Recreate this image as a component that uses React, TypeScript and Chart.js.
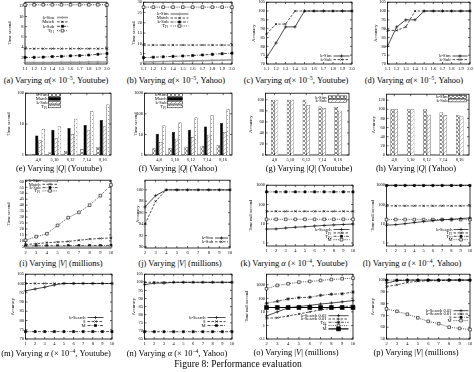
import React, { useEffect, useRef } from "react";
import { Chart, registerables } from "chart.js";
Chart.register(...registerables);

const FONT = "'Liberation Serif', 'DejaVu Serif', serif";

// ---------- categories ----------
const alphaLabels = ["1.1", "1.2", "1.3", "1.4", "1.5", "1.6", "1.7", "1.8", "1.9", "2.0"];
const vLabels = ["2", "3", "4", "5", "6", "7", "8", "9", "10"];
const alpha4Labels = ["1", "2", "3", "4", "5", "6", "7", "8", "9", "10"];
const qLabels = ["4,8", "5,10", "6,12", "7,14", "8,16"];

// ---------- tick values ----------
const aTicks = [2, 4, 6, 8, 10, 12];
const bTicks = [0, 5, 10, 15, 20, 25, 30];
const accTicks70 = [70, 75, 80, 85, 90, 95, 100, 105];
const logTicks100 = [1, 10, 100];
const logTicks1000 = [1, 10, 100, 1000];
const gTicks = [0, 20, 40, 60, 80, 100];
const hTicks = [0, 20, 40, 60, 80, 100, 120];
const iTicks = [5, 10, 15, 20, 25, 30, 35, 40, 45, 50, 55, 60];
const jTicks = [90, 92, 94, 96, 98, 100];
const nTicks = [65, 70, 75, 80, 85, 90, 95, 100, 105];
const oTicks = [0.1, 1, 10, 100, 1000];
const pTicks = [50, 60, 70, 80, 90, 100];

// ---------- (a) time, Youtube ----------
const aKSim = [1.0, 1.0, 1.0, 1.0, 1.05, 1.05, 1.05, 1.1, 1.1, 1.1];
const aMatch = [3.7, 3.7, 3.7, 3.7, 3.7, 3.7, 3.7, 3.7, 3.7, 3.7];
const aKSub = [2.0, 2.0, 2.05, 2.15, 2.2, 2.3, 2.35, 2.45, 2.6, 2.75];
const aTP1 = [12.3, 12.3, 12.3, 12.3, 12.3, 12.3, 12.3, 12.3, 12.3, 12.3];
// ---------- (b) time, Yahoo ----------
const bKSim = [1.0, 1.1, 1.2, 1.3, 1.4, 1.5, 1.6, 1.75, 1.85, 2.0];
const bMatch = [9.2, 9.2, 9.2, 9.2, 9.2, 9.2, 9.2, 9.2, 9.2, 9.2];
const bKSub = [3.1, 3.3, 3.5, 3.7, 3.9, 4.1, 4.4, 4.7, 5.0, 5.3];
const bTP1 = [27.6, 27.6, 27.6, 27.6, 27.6, 27.6, 27.6, 27.6, 27.6, 27.6];
// ---------- (c) accuracy, Youtube ----------
const cKSim = [73.7, 81.9, 91, 91, 100, 100, 100, 100, 100, 100];
const cKSub = [87, 92.6, 92.6, 100, 100, 100, 100, 100, 100, 100];
// ---------- (d) accuracy, Yahoo ----------
const dKSim = [80, 91, 95, 95, 100, 100, 100, 100, 100, 100];
const dKSub = [89, 89, 91, 100, 100, 100, 100, 100, 100, 100];
// ---------- (e) time vs |Q|, Youtube ----------
const eKSim = [1.05, 1.2, 1.34, 1.55, 1.8];
const eMatch = [4.3, 6.6, 7.5, 9.3, 13.7];
const eKSub = [3.0, 3.5, 4.8, 6.6, 8.4];
const eTP1 = [6.9, 8.4, 15, 26, 43];
// ---------- (f) time vs |Q|, Yahoo ----------
const fKSim = [2.1, 2.2, 2.5, 2.8, 3.0];
const fMatch = [10.8, 12.9, 17, 24, 36];
const fKSub = [4.3, 6.2, 7.5, 9.6, 13];
const fTP1 = [27, 38, 67, 86, 166];
// ---------- (g) accuracy vs |Q|, Youtube ----------
const gKSim = [100, 100, 100, 88, 87];
const gKSub = [100, 100, 90, 85, 80];
// ---------- (h) accuracy vs |Q|, Yahoo ----------
const hKSim = [100, 100, 100, 93, 87];
const hKSub = [100, 100, 88, 87, 84];
// ---------- (i) time vs |V| ----------
const iKSim = [4.6, 4.6, 4.6, 4.7, 4.7, 4.7, 4.8, 4.8, 4.8];
const iMatch = [7, 7.5, 8.5, 9, 9.5, 10.5, 11.5, 12, 12.5];
const iKSub = [5.8, 5.8, 5.9, 5.9, 6, 6, 6.1, 6.1, 6.2];
const iTP1 = [10.5, 13.5, 16, 23, 29.5, 34, 40, 48, 57];
// ---------- (j) accuracy vs |V| ----------
const jKSim = [97, 99, 100, 100, 100, 100, 100, 100, 100];
const jKSub = [94, 98, 100, 100, 100, 100, 100, 100, 100];
// ---------- (k) time vs alpha, Youtube ----------
const kKSearch = [5.3, 5.4, 6, 6.6, 7, 7.6, 8.2, 8.7, 9.2, 9.6];
const kTP1 = [44, 44, 44, 44, 44, 44, 44, 44, 44, 44];
const kTP2 = [450, 450, 450, 450, 450, 450, 450, 450, 450, 450];
const kM = [17, 17, 17, 17, 17, 17, 17, 17, 17, 17];
// ---------- (l) time vs alpha, Yahoo ----------
const lKSearch = [8.4, 9, 10, 11.5, 13, 14.5, 16, 17, 18.5, 20];
const lTP1 = [85, 85, 85, 85, 85, 85, 85, 85, 85, 85];
const lTP2 = [970, 970, 970, 970, 970, 970, 970, 970, 970, 970];
const lM = [16.5, 16.5, 16.5, 16.5, 16.5, 16.5, 16.5, 16.5, 16.5, 16.5];
// ---------- (m) accuracy vs alpha, Youtube ----------
const mKSearch = [96, 97, 98, 99.2, 100, 100, 100, 100, 100, 100];
const mS = [100, 100, 100, 100, 100, 100, 100, 100, 100, 100];
const mM = [74, 74, 74, 74, 74, 74, 74, 74, 74, 74];
// ---------- (n) accuracy vs alpha, Yahoo ----------
const nKSearch = [98.5, 99.5, 99.5, 100, 100, 100, 100, 100, 100, 100];
const nS = [100, 100, 100, 100, 100, 100, 100, 100, 100, 100];
const nM = [69.5, 69.5, 69.5, 69.5, 69.5, 69.5, 69.5, 69.5, 69.5, 69.5];
// ---------- (o) time vs |V| ----------
const oKS02 = [5, 10, 20, 25, 30, 38, 45, 55, 68];
const oKS01 = [3.4, 3.7, 5, 7, 10, 14, 18, 24, 29];
const oTP = [43, 60, 90, 112, 120, 165, 200, 215, 290];
const oT = [510, 900, 1180, 1560, 1750, 2070, 2450, 2750, 3050];
const oM = [21, 21, 21, 21, 21, 21, 21, 21, 21];
// ---------- (p) accuracy vs |V| ----------
const pKS02 = [97.5, 99.5, 100, 100, 100, 100, 100, 100, 100];
const pKS01 = [94.5, 96, 98, 99, 99.5, 99.5, 100, 100, 100];
const pS = [100, 100, 100, 100, 100, 100, 100, 100, 100];
const pM = [75.5, 73.5, 71, 68, 65, 63, 60, 59, 58];

// ---------- styles ----------
type LineStyle = { color: string; width: number; dash: number[]; marker: string; size: number };
const ST: Record<string, LineStyle> = {
  plus: { color: "#000", width: 0.7, dash: [], marker: "cross", size: 1.7 },
  gray: { color: "#999", width: 1.6, dash: [], marker: "cross", size: 1.7 },
  dashX: { color: "#000", width: 0.7, dash: [2.5, 1.5], marker: "crossRot", size: 1.6 },
  dashDotFilled: { color: "#000", width: 0.7, dash: [3, 1.2, 0.8, 1.2], marker: "rect", size: 1.5 },
  dotOpen: { color: "#000", width: 0.7, dash: [1, 1.2], marker: "rectOpen", size: 1.9 },
  dotStar: { color: "#000", width: 0.7, dash: [3, 1.2, 0.8, 1.2], marker: "star", size: 1.8 },
  bigFilled: { color: "#000", width: 1.2, dash: [], marker: "rect", size: 2.8 },
};

type Series = { label: string; data: number[]; style: string };
type PanelDef = {
  frame: [number, number, number, number];
  yw: number;
  kind: "line" | "bar";
  labels: string[];
  series: Series[];
  yType: "linear" | "logarithmic";
  yMin: number;
  yMax: number;
  yTicks: number[];
  yTitle: string;
  xRange?: [number, number];
  catPct?: number;
  key: { tx: number; sx0: number; sx1: number; y0: number; dy: number };
};

const PT = 3, PR = 5, XH = 9;

const timeSeries4 = (ks: number[], m: number[], ksub: number[], t: number[]): Series[] => [
  { label: "k-Sim", data: ks, style: "gray" },
  { label: "Match", data: m, style: "dashX" },
  { label: "k-Sub", data: ksub, style: "dashDotFilled" },
  { label: "T_{P1}", data: t, style: "dotOpen" },
];
const barSeries4 = (ks: number[], m: number[], ksub: number[], t: number[]): Series[] => [
  { label: "k-Sim", data: ks, style: "check" },
  { label: "Match", data: m, style: "black" },
  { label: "k-Sub", data: ksub, style: "hatch" },
  { label: "T_{P1}", data: t, style: "dots" },
];

const panels: PanelDef[] = [
  { frame: [25, 1, 107, 64], yw: 18, kind: "line", labels: alphaLabels, series: timeSeries4(aKSim, aMatch, aKSub, aTP1),
    yType: "linear", yMin: 0.7, yMax: 12.8, yTicks: aTicks, yTitle: "Time second",
    key: { tx: 54, sx0: 57, sx1: 68, y0: 17.5, dy: 4.4 } },
  { frame: [143, 1, 231, 64], yw: 12.5, kind: "line", labels: alphaLabels, series: timeSeries4(bKSim, bMatch, bKSub, bTP1),
    yType: "linear", yMin: 0, yMax: 30, yTicks: bTicks, yTitle: "Time second",
    key: { tx: 168, sx0: 170, sx1: 188, y0: 14, dy: 4 } },
  { frame: [266, 1, 351, 64], yw: 15.5, kind: "line", labels: alphaLabels,
    series: [ { label: "k-Sim", data: cKSim, style: "plus" }, { label: "k-Sub", data: cKSub, style: "dashX" } ],
    yType: "linear", yMin: 70, yMax: 105, yTicks: accTicks70, yTitle: "Accuracy",
    key: { tx: 331, sx0: 333, sx1: 349, y0: 56, dy: 3.6 } },
  { frame: [387, 1, 469, 64], yw: 14.5, kind: "line", labels: alphaLabels,
    series: [ { label: "k-Sim", data: dKSim, style: "plus" }, { label: "k-Sub", data: dKSub, style: "dashX" } ],
    yType: "linear", yMin: 70, yMax: 105, yTicks: accTicks70, yTitle: "Accuracy",
    key: { tx: 450, sx0: 452, sx1: 467, y0: 56, dy: 3.6 } },

  { frame: [25, 92, 110, 155], yw: 19.5, kind: "bar", labels: qLabels, series: barSeries4(eKSim, eMatch, eKSub, eTP1),
    yType: "logarithmic", yMin: 1, yMax: 100, yTicks: logTicks100, yTitle: "Time second", xRange: [-0.8, 4.5], catPct: 0.82,
    key: { tx: 47, sx0: 48, sx1: 60, y0: 95, dy: 3.8 } },
  { frame: [144, 92, 231, 155], yw: 11.5, kind: "bar", labels: qLabels, series: barSeries4(fKSim, fMatch, fKSub, fTP1),
    yType: "logarithmic", yMin: 1, yMax: 1000, yTicks: logTicks1000, yTitle: "Time second", xRange: [-0.9, 4.55], catPct: 0.82,
    key: { tx: 166, sx0: 167, sx1: 182, y0: 95, dy: 3.8 } },
  { frame: [265, 92, 348, 155], yw: 17.5, kind: "bar", labels: qLabels,
    series: [ { label: "k-Sim", data: gKSim, style: "check" }, { label: "k-Sub", data: gKSub, style: "hatch" } ],
    yType: "linear", yMin: 0, yMax: 112, yTicks: gTicks, yTitle: "Accuracy", xRange: [-0.57, 4.69], catPct: 0.46,
    key: { tx: 326, sx0: 328, sx1: 346, y0: 97.3, dy: 3.5 } },
  { frame: [386, 93, 468, 155], yw: 15.5, kind: "bar", labels: qLabels,
    series: [ { label: "k-Sim", data: hKSim, style: "check" }, { label: "k-Sub", data: hKSub, style: "hatch" } ],
    yType: "linear", yMin: 0, yMax: 133, yTicks: hTicks, yTitle: "Accuracy", xRange: [-0.47, 4.57], catPct: 0.46,
    key: { tx: 447, sx0: 448, sx1: 466, y0: 97, dy: 3.5 } },

  { frame: [25, 179, 110, 248], yw: 19.5, kind: "line", labels: vLabels, series: timeSeries4(iKSim, iMatch, iKSub, iTP1),
    yType: "linear", yMin: 4, yMax: 61, yTicks: iTicks, yTitle: "Time second",
    key: { tx: 40, sx0: 42, sx1: 57, y0: 181, dy: 3.3 } },
  { frame: [145, 179, 230, 248], yw: 10, kind: "line", labels: vLabels,
    series: [ { label: "k-Sim", data: jKSim, style: "plus" }, { label: "k-Sub", data: jKSub, style: "dashX" } ],
    yType: "linear", yMin: 89.8, yMax: 101.7, yTicks: jTicks, yTitle: "Accuracy",
    key: { tx: 213, sx0: 215, sx1: 228, y0: 238, dy: 3.8 } },
  { frame: [266, 184, 352, 246], yw: 18.5, kind: "line", labels: alpha4Labels,
    series: [ { label: "k-Search", data: kKSearch, style: "plus" }, { label: "T_{P1}", data: kTP1, style: "dashX" },
      { label: "T_{P2}", data: kTP2, style: "dashDotFilled" }, { label: "M", data: kM, style: "dotOpen" } ],
    yType: "logarithmic", yMin: 0.7, yMax: 1000, yTicks: logTicks1000, yTitle: "Time millisecond",
    key: { tx: 331, sx0: 333, sx1: 349, y0: 229.5, dy: 3.4 } },
  { frame: [386, 184, 469, 246], yw: 16.5, kind: "line", labels: alpha4Labels,
    series: [ { label: "k-Search", data: lKSearch, style: "plus" }, { label: "T_{P1}", data: lTP1, style: "dashX" },
      { label: "T_{P2}", data: lTP2, style: "dashDotFilled" }, { label: "M", data: lM, style: "dotOpen" } ],
    yType: "logarithmic", yMin: 0.7, yMax: 1000, yTicks: logTicks1000, yTitle: "Time millisecond",
    key: { tx: 452, sx0: 453, sx1: 468, y0: 229.5, dy: 3.4 } },

  { frame: [25, 273, 111, 339], yw: 15.5, kind: "line", labels: alpha4Labels,
    series: [ { label: "k-Search", data: mKSearch, style: "plus" }, { label: "S", data: mS, style: "dashX" },
      { label: "M", data: mM, style: "dashDotFilled" } ],
    yType: "linear", yMin: 70, yMax: 105, yTicks: accTicks70, yTitle: "Accuracy",
    key: { tx: 85, sx0: 87, sx1: 103, y0: 317.5, dy: 4 } },
  { frame: [144, 273, 231, 339], yw: 13.5, kind: "line", labels: alpha4Labels,
    series: [ { label: "k-Search", data: nKSearch, style: "plus" }, { label: "S", data: nS, style: "dashX" },
      { label: "M", data: nM, style: "dashDotFilled" } ],
    yType: "linear", yMin: 65, yMax: 105, yTicks: nTicks, yTitle: "Accuracy",
    key: { tx: 205, sx0: 207, sx1: 225, y0: 317.5, dy: 4 } },
  { frame: [266, 273, 352, 339], yw: 22.5, kind: "line", labels: vLabels,
    series: [ { label: "k-Search 0.02", data: oKS02, style: "plus" }, { label: "k-Search 0.01", data: oKS01, style: "dashX" },
      { label: "T_{P1}", data: oTP, style: "dotStar" }, { label: "T", data: oT, style: "dotOpen" },
      { label: "M", data: oM, style: "bigFilled" } ],
    yType: "logarithmic", yMin: 0.1, yMax: 6000, yTicks: oTicks, yTitle: "Time millisecond",
    key: { tx: 326, sx0: 328, sx1: 348, y0: 315.7, dy: 3.3 } },
  { frame: [386, 273, 469, 339], yw: 16.5, kind: "line", labels: vLabels,
    series: [ { label: "k-Search 0.02", data: pKS02, style: "plus" }, { label: "k-Search 0.01", data: pKS01, style: "dashX" },
      { label: "S", data: pS, style: "dashDotFilled" }, { label: "M", data: pM, style: "dotOpen" } ],
    yType: "linear", yMin: 50, yMax: 105, yTicks: pTicks, yTitle: "Accuracy",
    key: { tx: 451, sx0: 453, sx1: 468, y0: 310.7, dy: 3.3 } },
];

// ---------- helpers ----------
function makeFill(kind: string): any {
  if (kind === "black") return "#000";
  const c = document.createElement("canvas");
  c.width = 4; c.height = 4;
  const g = c.getContext("2d")!;
  g.fillStyle = "#fff"; g.fillRect(0, 0, 4, 4);
  if (kind === "check") {
    g.strokeStyle = "#555"; g.lineWidth = 0.7;
    g.beginPath(); g.moveTo(0, 0); g.lineTo(4, 4); g.moveTo(4, 0); g.lineTo(0, 4); g.stroke();
  } else if (kind === "hatch") {
    g.strokeStyle = "#888"; g.lineWidth = 0.6;
    g.beginPath(); g.moveTo(0, 4); g.lineTo(4, 0); g.moveTo(-1, 1); g.lineTo(1, -1); g.moveTo(3, 5); g.lineTo(5, 3); g.stroke();
  } else if (kind === "dots") {
    g.fillStyle = "#aaa"; g.fillRect(0, 0, 1, 1); g.fillRect(2, 2, 1, 1);
  }
  return g.createPattern(c, "repeat");
}

function drawMarker(ctx: CanvasRenderingContext2D, st: LineStyle, x: number, y: number) {
  const r = st.size;
  ctx.save();
  ctx.setLineDash([]);
  ctx.lineWidth = 0.6;
  ctx.strokeStyle = st.color;
  ctx.fillStyle = st.color;
  ctx.beginPath();
  if (st.marker === "cross") {
    ctx.moveTo(x - r, y); ctx.lineTo(x + r, y); ctx.moveTo(x, y - r); ctx.lineTo(x, y + r); ctx.stroke();
  } else if (st.marker === "crossRot") {
    const d = r * 0.75;
    ctx.moveTo(x - d, y - d); ctx.lineTo(x + d, y + d); ctx.moveTo(x + d, y - d); ctx.lineTo(x - d, y + d); ctx.stroke();
  } else if (st.marker === "star") {
    const d = r * 0.75;
    ctx.moveTo(x - r, y); ctx.lineTo(x + r, y); ctx.moveTo(x, y - r); ctx.lineTo(x, y + r);
    ctx.moveTo(x - d, y - d); ctx.lineTo(x + d, y + d); ctx.moveTo(x + d, y - d); ctx.lineTo(x - d, y + d); ctx.stroke();
  } else {
    const s = r * Math.SQRT1_2;
    ctx.rect(x - s, y - s, 2 * s, 2 * s);
    if (st.marker === "rectOpen") { ctx.fillStyle = "#fff"; }
    ctx.fill(); ctx.stroke();
  }
  ctx.restore();
}

function drawLabel(ctx: CanvasRenderingContext2D, label: string, right: number, y: number, size: number) {
  const m = label.match(/^(.*)_\{(.*)\}$/);
  const main = m ? m[1] : label;
  const sub = m ? m[2] : "";
  ctx.font = `${size}px ${FONT}`;
  const w1 = ctx.measureText(main).width;
  ctx.font = `${size * 0.7}px ${FONT}`;
  const w2 = sub ? ctx.measureText(sub).width : 0;
  const x0 = right - w1 - w2;
  ctx.fillStyle = "#000";
  ctx.textBaseline = "middle";
  ctx.textAlign = "left";
  ctx.font = `${size}px ${FONT}`;
  ctx.fillText(main, x0, y);
  if (sub) {
    ctx.font = `${size * 0.7}px ${FONT}`;
    ctx.fillText(sub, x0 + w1, y + size * 0.3);
  }
}

const framePlugin = {
  id: "gframe",
  beforeDatasetsDraw(chart: any) {
    const { ctx, chartArea } = chart;
    const { left, top, right, bottom } = chartArea;
    ctx.save();
    ctx.strokeStyle = "#000";
    ctx.lineWidth = 0.8;
    ctx.setLineDash([]);
    ctx.strokeRect(left, top, right - left, bottom - top);
    const tl = 2;
    ctx.lineWidth = 0.6;
    ctx.beginPath();
    const xs = chart.scales.x;
    xs.ticks.forEach((_t: any, i: number) => {
      const px = xs.getPixelForTick(i);
      if (px < left - 0.5 || px > right + 0.5) return;
      ctx.moveTo(px, bottom); ctx.lineTo(px, bottom - tl);
      ctx.moveTo(px, top); ctx.lineTo(px, top + tl);
    });
    const ys = chart.scales.y;
    ys.ticks.forEach((_t: any, i: number) => {
      const py = ys.getPixelForTick(i);
      if (py < top - 0.5 || py > bottom + 0.5) return;
      ctx.moveTo(left, py); ctx.lineTo(left + tl, py);
      ctx.moveTo(right, py); ctx.lineTo(right - tl, py);
    });
    ctx.stroke();
    ctx.restore();
  },
};

const keyPlugin = {
  id: "gkey",
  afterDatasetsDraw(chart: any, _args: any, opts: any) {
    if (!opts || opts.tx == null) return;
    const ctx: CanvasRenderingContext2D = chart.ctx;
    ctx.save();
    chart.data.datasets.forEach((ds: any, i: number) => {
      const y = opts.y0 + i * opts.dy;
      drawLabel(ctx, ds.label, opts.tx, y, opts.size);
      if (ds._kind === "bar") {
        ctx.fillStyle = ds._fill;
        ctx.fillRect(opts.sx0, y - 1.4, opts.sx1 - opts.sx0, 2.8);
        ctx.strokeStyle = "#000"; ctx.lineWidth = 0.5; ctx.setLineDash([]);
        ctx.strokeRect(opts.sx0, y - 1.4, opts.sx1 - opts.sx0, 2.8);
      } else {
        const st: LineStyle = ds._st;
        ctx.strokeStyle = st.color; ctx.lineWidth = st.width; ctx.setLineDash(st.dash);
        ctx.beginPath(); ctx.moveTo(opts.sx0, y); ctx.lineTo(opts.sx1, y); ctx.stroke();
        ctx.setLineDash([]);
        drawMarker(ctx, st, (opts.sx0 + opts.sx1) / 2, y);
      }
    });
    ctx.restore();
  },
};

function buildConfig(def: PanelDef, left: number, top: number): any {
  const isBar = def.kind === "bar";
  const tickFont = { family: FONT, size: 4.5 };
  const datasets = def.series.map((s) => {
    if (isBar) {
      const fill = makeFill(s.style);
      return {
        label: s.label,
        data: s.data.map((v, i) => ({ x: i, y: v })),
        backgroundColor: fill,
        borderColor: "#000",
        borderWidth: 0.5,
        barPercentage: 1,
        categoryPercentage: def.catPct,
        _kind: "bar",
        _fill: fill,
      };
    }
    const st = ST[s.style];
    return {
      label: s.label,
      data: s.data,
      borderColor: st.color,
      borderWidth: st.width,
      borderDash: st.dash,
      pointStyle: st.marker === "rectOpen" ? "rect" : st.marker,
      pointRadius: st.size,
      pointHoverRadius: st.size,
      pointBorderColor: st.color,
      pointBackgroundColor: st.marker === "rectOpen" ? "#fff" : st.color,
      pointBorderWidth: 0.6,
      tension: 0,
      fill: false,
      clip: 4,
      _st: st,
    };
  });
  const xScale: any = isBar
    ? {
        type: "linear",
        min: def.xRange![0],
        max: def.xRange![1],
        offset: false,
        grid: { display: false, drawTicks: false },
        border: { display: false },
        ticks: { font: tickFont, color: "#000", padding: 2, maxRotation: 0, autoSkip: false,
          callback: (v: number) => def.labels[v] ?? "" },
        afterBuildTicks: (s: any) => { s.ticks = def.labels.map((_l, i) => ({ value: i })); },
        afterFit: (s: any) => { s.height = XH; },
      }
    : {
        type: "category",
        offset: false,
        grid: { display: false, drawTicks: false },
        border: { display: false },
        ticks: { font: tickFont, color: "#000", padding: 2, maxRotation: 0, autoSkip: false },
        afterFit: (s: any) => { s.height = XH; },
      };
  return {
    type: isBar ? "bar" : "line",
    data: { labels: isBar ? undefined : def.labels, datasets },
    options: {
      animation: false,
      responsive: false,
      devicePixelRatio: 1,
      events: [],
      layout: { padding: { top: PT, right: PR, left: 0, bottom: 0 } },
      scales: {
        x: xScale,
        y: {
          type: def.yType,
          min: def.yMin,
          max: def.yMax,
          beginAtZero: false,
          grid: { display: false, drawTicks: false },
          border: { display: false },
          ticks: { font: tickFont, color: "#000", padding: 1.5, autoSkip: false, callback: (v: number) => String(v) },
          title: { display: true, text: def.yTitle, font: { family: FONT, size: 4.5 }, color: "#000", padding: 0 },
          afterBuildTicks: (s: any) => { s.ticks = def.yTicks.map((v) => ({ value: v })); },
          afterFit: (s: any) => { s.width = def.yw; },
        },
      },
      plugins: {
        legend: { display: false },
        tooltip: { enabled: false },
        gkey: {
          tx: def.key.tx - left,
          sx0: def.key.sx0 - left,
          sx1: def.key.sx1 - left,
          y0: def.key.y0 - top,
          dy: def.key.dy,
          size: 4.6,
        },
      },
    },
    plugins: [framePlugin, keyPlugin],
  };
}

function Panel({ def }: { def: PanelDef }) {
  const ref = useRef<HTMLCanvasElement>(null);
  const [l, t, r, b] = def.frame;
  const left = l - def.yw;
  const top = t - PT;
  const w = Math.round(r - l + def.yw + PR);
  const h = Math.round(b - t + PT + XH);
  useEffect(() => {
    const chart = new Chart(ref.current!, buildConfig(def, left, top));
    return () => chart.destroy();
  }, []);
  return (
    <canvas ref={ref} width={w} height={h}
      style={{ position: "absolute", left, top, width: w, height: h }} />
  );
}

const capStyle = (x: number, y: number, size = 8.5): React.CSSProperties => ({
  position: "absolute", left: x, top: y, transform: "translate(-50%, -50%)",
  whiteSpace: "nowrap", fontFamily: FONT, fontSize: size, color: "#000", lineHeight: 1,
});
const sup: React.CSSProperties = { fontSize: "0.65em", verticalAlign: "0.55em", lineHeight: 0 };

export default function App() {
  return (
    <div style={{ position: "absolute", left: 0, top: 0, width: 474, height: 372, background: "#fff", overflow: "hidden" }}>
      {panels.map((p, i) => <Panel key={i} def={p} />)}
      <div style={capStyle(56, 80)}>(a) Varying <i>α</i>(× 10<span style={sup}>−5</span>, Youtube)</div>
      <div style={capStyle(176, 80)}>(b) Varying <i>α</i>(× 10<span style={sup}>−5</span>, Yahoo)</div>
      <div style={capStyle(296, 80)}>(c) Varying <i>α</i>(× 10<span style={sup}>−5</span>, Youtube)</div>
      <div style={capStyle(414, 80)}>(d) Varying <i>α</i>(× 10<span style={sup}>−5</span>, Yahoo)</div>
      <div style={capStyle(59, 168)}>(e) Varying |<i>Q</i>| (Youtube)</div>
      <div style={capStyle(178, 168)}>(f) Varying |<i>Q</i>| (Yahoo)</div>
      <div style={capStyle(309, 168)}>(g) Varying |<i>Q</i>| (Youtube)</div>
      <div style={capStyle(416, 168)}>(h) Varying |<i>Q</i>| (Yahoo)</div>
      <div style={capStyle(61, 263)}>(i) Varying |<i>V</i>| (millions)</div>
      <div style={capStyle(180, 263)}>(j) Varying |<i>V</i>| (millions)</div>
      <div style={capStyle(294, 263)}>(k) Varying <i>α</i> (× 10<span style={sup}>−4</span>, Youtube)</div>
      <div style={capStyle(412, 263)}>(l) Varying <i>α</i> (× 10<span style={sup}>−4</span>, Yahoo)</div>
      <div style={capStyle(56, 353)}>(m) Varying <i>α</i> (× 10<span style={sup}>−4</span>, Youtube)</div>
      <div style={capStyle(177, 353)}>(n) Varying <i>α</i> (× 10<span style={sup}>−4</span>, Yahoo)</div>
      <div style={capStyle(296, 352)}>(o) Varying |<i>V</i>| (millions)</div>
      <div style={capStyle(416, 352)}>(p) Varying |<i>V</i>| (millions)</div>
      <div style={capStyle(238, 365, 9.5)}>Figure 8: Performance evaluation</div>
    </div>
  );
}
